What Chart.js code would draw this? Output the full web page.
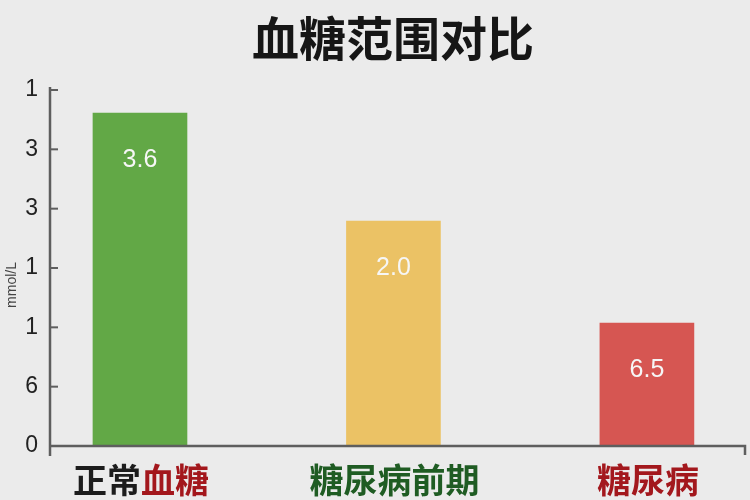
<!DOCTYPE html>
<html><head><meta charset="utf-8">
<script src="https://cdn.jsdelivr.net/npm/chart.js@4/dist/chart.umd.min.js"></script>
<style>html,body{margin:0;padding:0;background:#ebebeb;}canvas{display:block;}</style>
</head><body>
<canvas id="c" width="750" height="500"></canvas>
<script>
const chartTitle = "血糖范围对比";
const categories = ["正常血糖", "糖尿病前期", "糖尿病"];
const values = [5.61, 3.79, 2.07];
const valueLabels = ["3.6", "2.0", "6.5"];
const yTickLabels = ["0", "6", "1", "1", "3", "3", "1"];
const yTitle = "mmol/L";

const barColors = ["#62a846", "#ebc265", "#d65652"];
// colour runs for each category label: [number of characters, colour]
const labelRuns = [[[2, "#1c1c1c"], [2, "#a3171c"]], [[5, "#1f5c23"]], [[3, "#a3181d"]]];

const deco = {
  id: 'deco',
  afterDraw(chart) {
    const { ctx, chartArea: a, scales: { x, y } } = chart;
    ctx.save();
    // axes
    ctx.strokeStyle = '#5e5e5e';
    ctx.lineWidth = 2.5;
    ctx.lineCap = 'butt';
    ctx.beginPath(); ctx.moveTo(a.left, a.top - 3); ctx.lineTo(a.left, a.bottom + 10); ctx.stroke();
    ctx.beginPath(); ctx.moveTo(a.left, a.bottom); ctx.lineTo(a.right, a.bottom); ctx.lineTo(a.right, a.bottom + 9); ctx.stroke();
    ctx.lineWidth = 2;
    y.ticks.forEach(t => {
      const py = y.getPixelForValue(t.value);
      ctx.beginPath(); ctx.moveTo(a.left, py); ctx.lineTo(a.left + 8, py); ctx.stroke();
    });
    // title
    ctx.fillStyle = '#161616';
    ctx.font = 'bold 47px "Noto Sans CJK SC"';
    ctx.textAlign = 'center'; ctx.textBaseline = 'middle';
    ctx.fillText(chartTitle, 393, 38);
    // y title
    ctx.save();
    ctx.translate(12, 285);
    ctx.rotate(-Math.PI / 2);
    ctx.font = '14px "Liberation Sans"';
    ctx.fillStyle = '#444';
    ctx.fillText(yTitle, 0, 0);
    ctx.restore();
    // value labels
    const meta = chart.getDatasetMeta(0);
    ctx.font = '25px "Liberation Sans"';
    ctx.fillStyle = '#f6f6f6';
    meta.data.forEach((el, i) => {
      ctx.fillText(valueLabels[i], el.x, el.y + 47);
    });
    // category labels
    ctx.font = 'bold 34px "Noto Sans CJK SC"';
    ctx.textAlign = 'left';
    categories.forEach((cat, i) => {
      const cx = meta.data[i].x + 1;
      const w = ctx.measureText(cat).width;
      let px = cx - w / 2, pos = 0;
      labelRuns[i].forEach(([n, col]) => {
        const seg = cat.slice(pos, pos + n);
        ctx.fillStyle = col;
        ctx.fillText(seg, px, 480);
        px += ctx.measureText(seg).width;
        pos += n;
      });
    });
    ctx.restore();
  }
};

new Chart(document.getElementById('c'), {
  type: 'bar',
  data: {
    datasets: [{
      data: values.map((v, i) => ({ x: i, y: v })),
      backgroundColor: barColors,
      borderWidth: 0,
      barThickness: 94
    }]
  },
  options: {
    responsive: false,
    animation: false,
    devicePixelRatio: 1,
    layout: { padding: { top: 90, right: 5, bottom: 54, left: 0 } },
    plugins: { legend: { display: false }, tooltip: { enabled: false }, title: { display: false } },
    scales: {
      x: {
        type: 'linear', display: false, offset: false, grid: { offset: false },
        min: -0.355, max: 2.387
      },
      y: {
        min: 0, max: 6,
        grid: { display: false, drawTicks: false },
        border: { display: false },
        ticks: {
          stepSize: 1,
          padding: 12,
          color: '#222',
          font: { size: 23, family: 'Liberation Sans' },
          callback: v => yTickLabels[v]
        },
        afterFit: s => { s.width = 50; }
      }
    }
  },
  plugins: [deco]
});
</script>
</body></html>
